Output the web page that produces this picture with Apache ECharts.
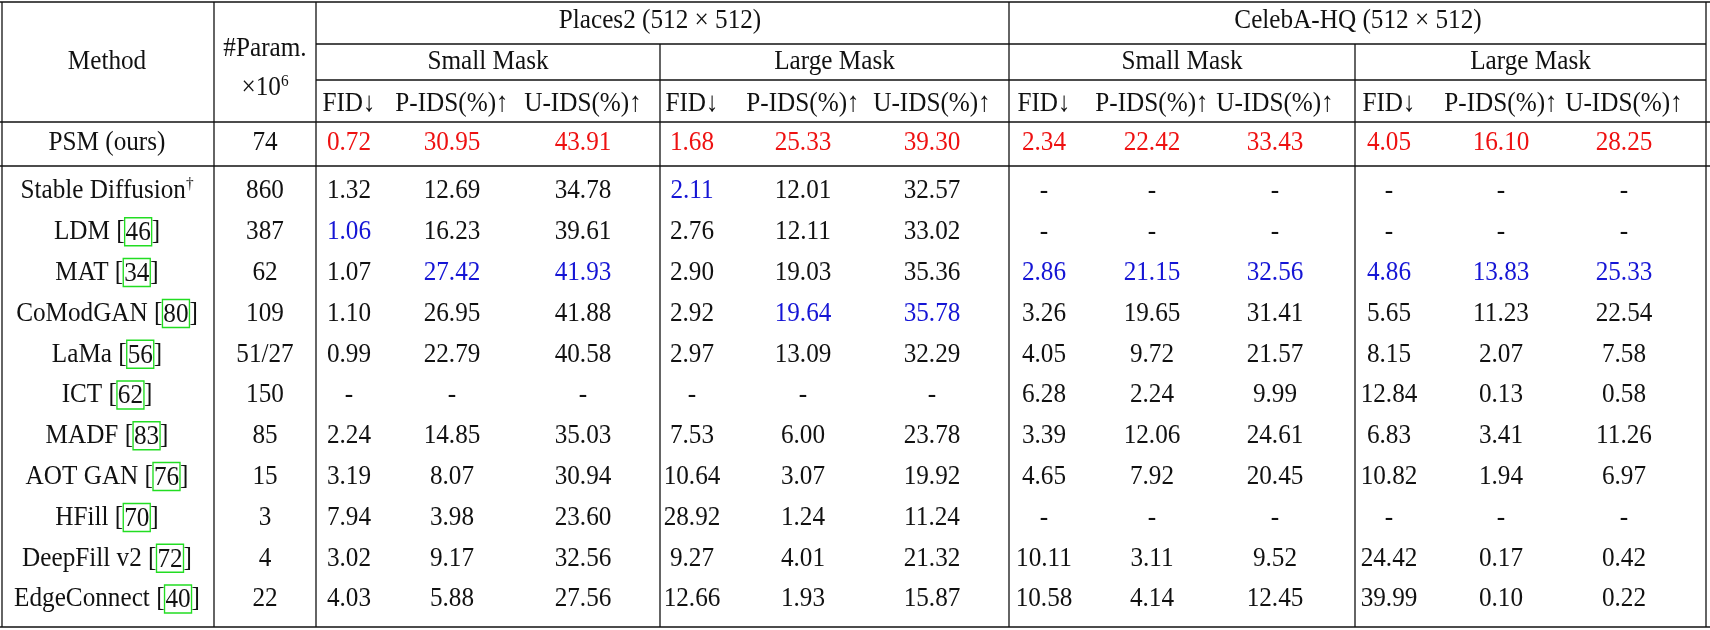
<!DOCTYPE html>
<html><head><meta charset="utf-8">
<script src="https://cdn.jsdelivr.net/npm/echarts@6/dist/echarts.min.js"></script>
<style>html,body{margin:0;background:#fff}#c{width:1710px;height:630px}</style>
</head><body><div id="c"></div>
<script>
var methods = ['PSM (ours)', 'Stable Diffusion', 'LDM', 'MAT', 'CoModGAN', 'LaMa', 'ICT', 'MADF', 'AOT GAN', 'HFill', 'DeepFill v2', 'EdgeConnect'];
var cites = ['', '', '46', '34', '80', '56', '62', '83', '76', '70', '72', '40'];
var params = ['74', '860', '387', '62', '109', '51/27', '150', '85', '15', '3', '4', '22'];
var places2Small = [['0.72','30.95','43.91'],['1.32','12.69','34.78'],['1.06','16.23','39.61'],['1.07','27.42','41.93'],['1.10','26.95','41.88'],['0.99','22.79','40.58'],['-','-','-'],['2.24','14.85','35.03'],['3.19','8.07','30.94'],['7.94','3.98','23.60'],['3.02','9.17','32.56'],['4.03','5.88','27.56']];
var places2Large = [['1.68','25.33','39.30'],['2.11','12.01','32.57'],['2.76','12.11','33.02'],['2.90','19.03','35.36'],['2.92','19.64','35.78'],['2.97','13.09','32.29'],['-','-','-'],['7.53','6.00','23.78'],['10.64','3.07','19.92'],['28.92','1.24','11.24'],['9.27','4.01','21.32'],['12.66','1.93','15.87']];
var celebaSmall = [['2.34','22.42','33.43'],['-','-','-'],['-','-','-'],['2.86','21.15','32.56'],['3.26','19.65','31.41'],['4.05','9.72','21.57'],['6.28','2.24','9.99'],['3.39','12.06','24.61'],['4.65','7.92','20.45'],['-','-','-'],['10.11','3.11','9.52'],['10.58','4.14','12.45']];
var celebaLarge = [['4.05','16.10','28.25'],['-','-','-'],['-','-','-'],['4.86','13.83','25.33'],['5.65','11.23','22.54'],['8.15','2.07','7.58'],['12.84','0.13','0.58'],['6.83','3.41','11.26'],['10.82','1.94','6.97'],['-','-','-'],['24.42','0.17','0.42'],['39.99','0.10','0.22']];
// second best (blue): [row, column index 0..11]
var secondBest = [[1,3],[2,0],[3,1],[3,2],[3,6],[3,7],[3,8],[3,9],[3,10],[3,11],[4,4],[4,5]];
var metricLabels = ['FID↓', 'P-IDS(%)↑', 'U-IDS(%)↑'];

var font = 'Liberation Serif, Times New Roman, serif';
var fs = 28;
var sx = 0.9;
var colX = [349, 452, 583, 692, 803, 932, 1044, 1152, 1275, 1389, 1501, 1624];
var rowY = [143];
for (var i = 1; i < methods.length; i++) rowY.push(191 + (i - 1) * 40.8);

var g = [];
function txt(x, y, t, color, rich) {
  g.push({type: 'text', x: x, y: y, scaleX: sx, style: {text: t, fill: color || '#111', font: fs + 'px ' + font,
    align: 'center', verticalAlign: 'middle', rich: rich}});
}
function line(x1, y1, x2, y2) {
  g.push({type: 'line', shape: {x1: x1, y1: y1, x2: x2, y2: y2}, style: {stroke: '#111', lineWidth: 1.3}});
}
var richSup = {
  sup: {fontSize: 17, fontFamily: font, verticalAlign: 'top', padding: [0, 0, 13, 0], fill: '#111'},
  n: {fontSize: fs, fontFamily: font, fill: '#111'},
  box: {fontSize: fs, fontFamily: font, fill: '#111', borderColor: '#22dd22', borderWidth: 1.5, padding: [1, 1, -1, 1]}
};

// headers
txt(107, 62, 'Method');
txt(265, 49, '#Param.');
txt(265, 88, '{n|×10}{sup|6}', '#111', richSup);
txt(660, 21, 'Places2 (512 × 512)');
txt(1358, 21, 'CelebA-HQ (512 × 512)');
['Small Mask', 'Large Mask', 'Small Mask', 'Large Mask'].forEach(function (t, k) {
  var b = [316, 660, 1009, 1355, 1706];
  txt((b[k] + b[k + 1]) / 2, 62, t);
});
for (var c = 0; c < 12; c++) txt(colX[c], 104, metricLabels[c % 3]);

var groups = [places2Small, places2Large, celebaSmall, celebaLarge];
methods.forEach(function (m, r) {
  var label = '{n|' + m + '}';
  if (r === 1) label += '{sup|†}';
  if (cites[r]) label = '{n|' + m + ' [}{box|' + cites[r] + '}{n|]}';
  txt(107, rowY[r], label, '#111', richSup);
  txt(265, rowY[r], params[r]);
  for (var c = 0; c < 12; c++) {
    var v = groups[Math.floor(c / 3)][r][c % 3];
    var color = r === 0 ? '#ee1111' : '#111';
    secondBest.forEach(function (s) { if (s[0] === r && s[1] === c) color = '#1515d5'; });
    txt(colX[c], rowY[r], v, color);
  }
});

// rules
line(0, 2, 1710, 2);
line(316, 44, 1706, 44);
line(316, 80, 1706, 80);
line(0, 122, 1710, 122);
line(0, 166, 1710, 166);
line(0, 627, 1710, 627);
[2, 214, 316, 1009, 1706].forEach(function (x) { line(x, 2, x, 627); });
[660, 1355].forEach(function (x) { line(x, 44, x, 627); });

var chart = echarts.init(document.getElementById('c'));
chart.setOption({graphic: g});
</script></body></html>
